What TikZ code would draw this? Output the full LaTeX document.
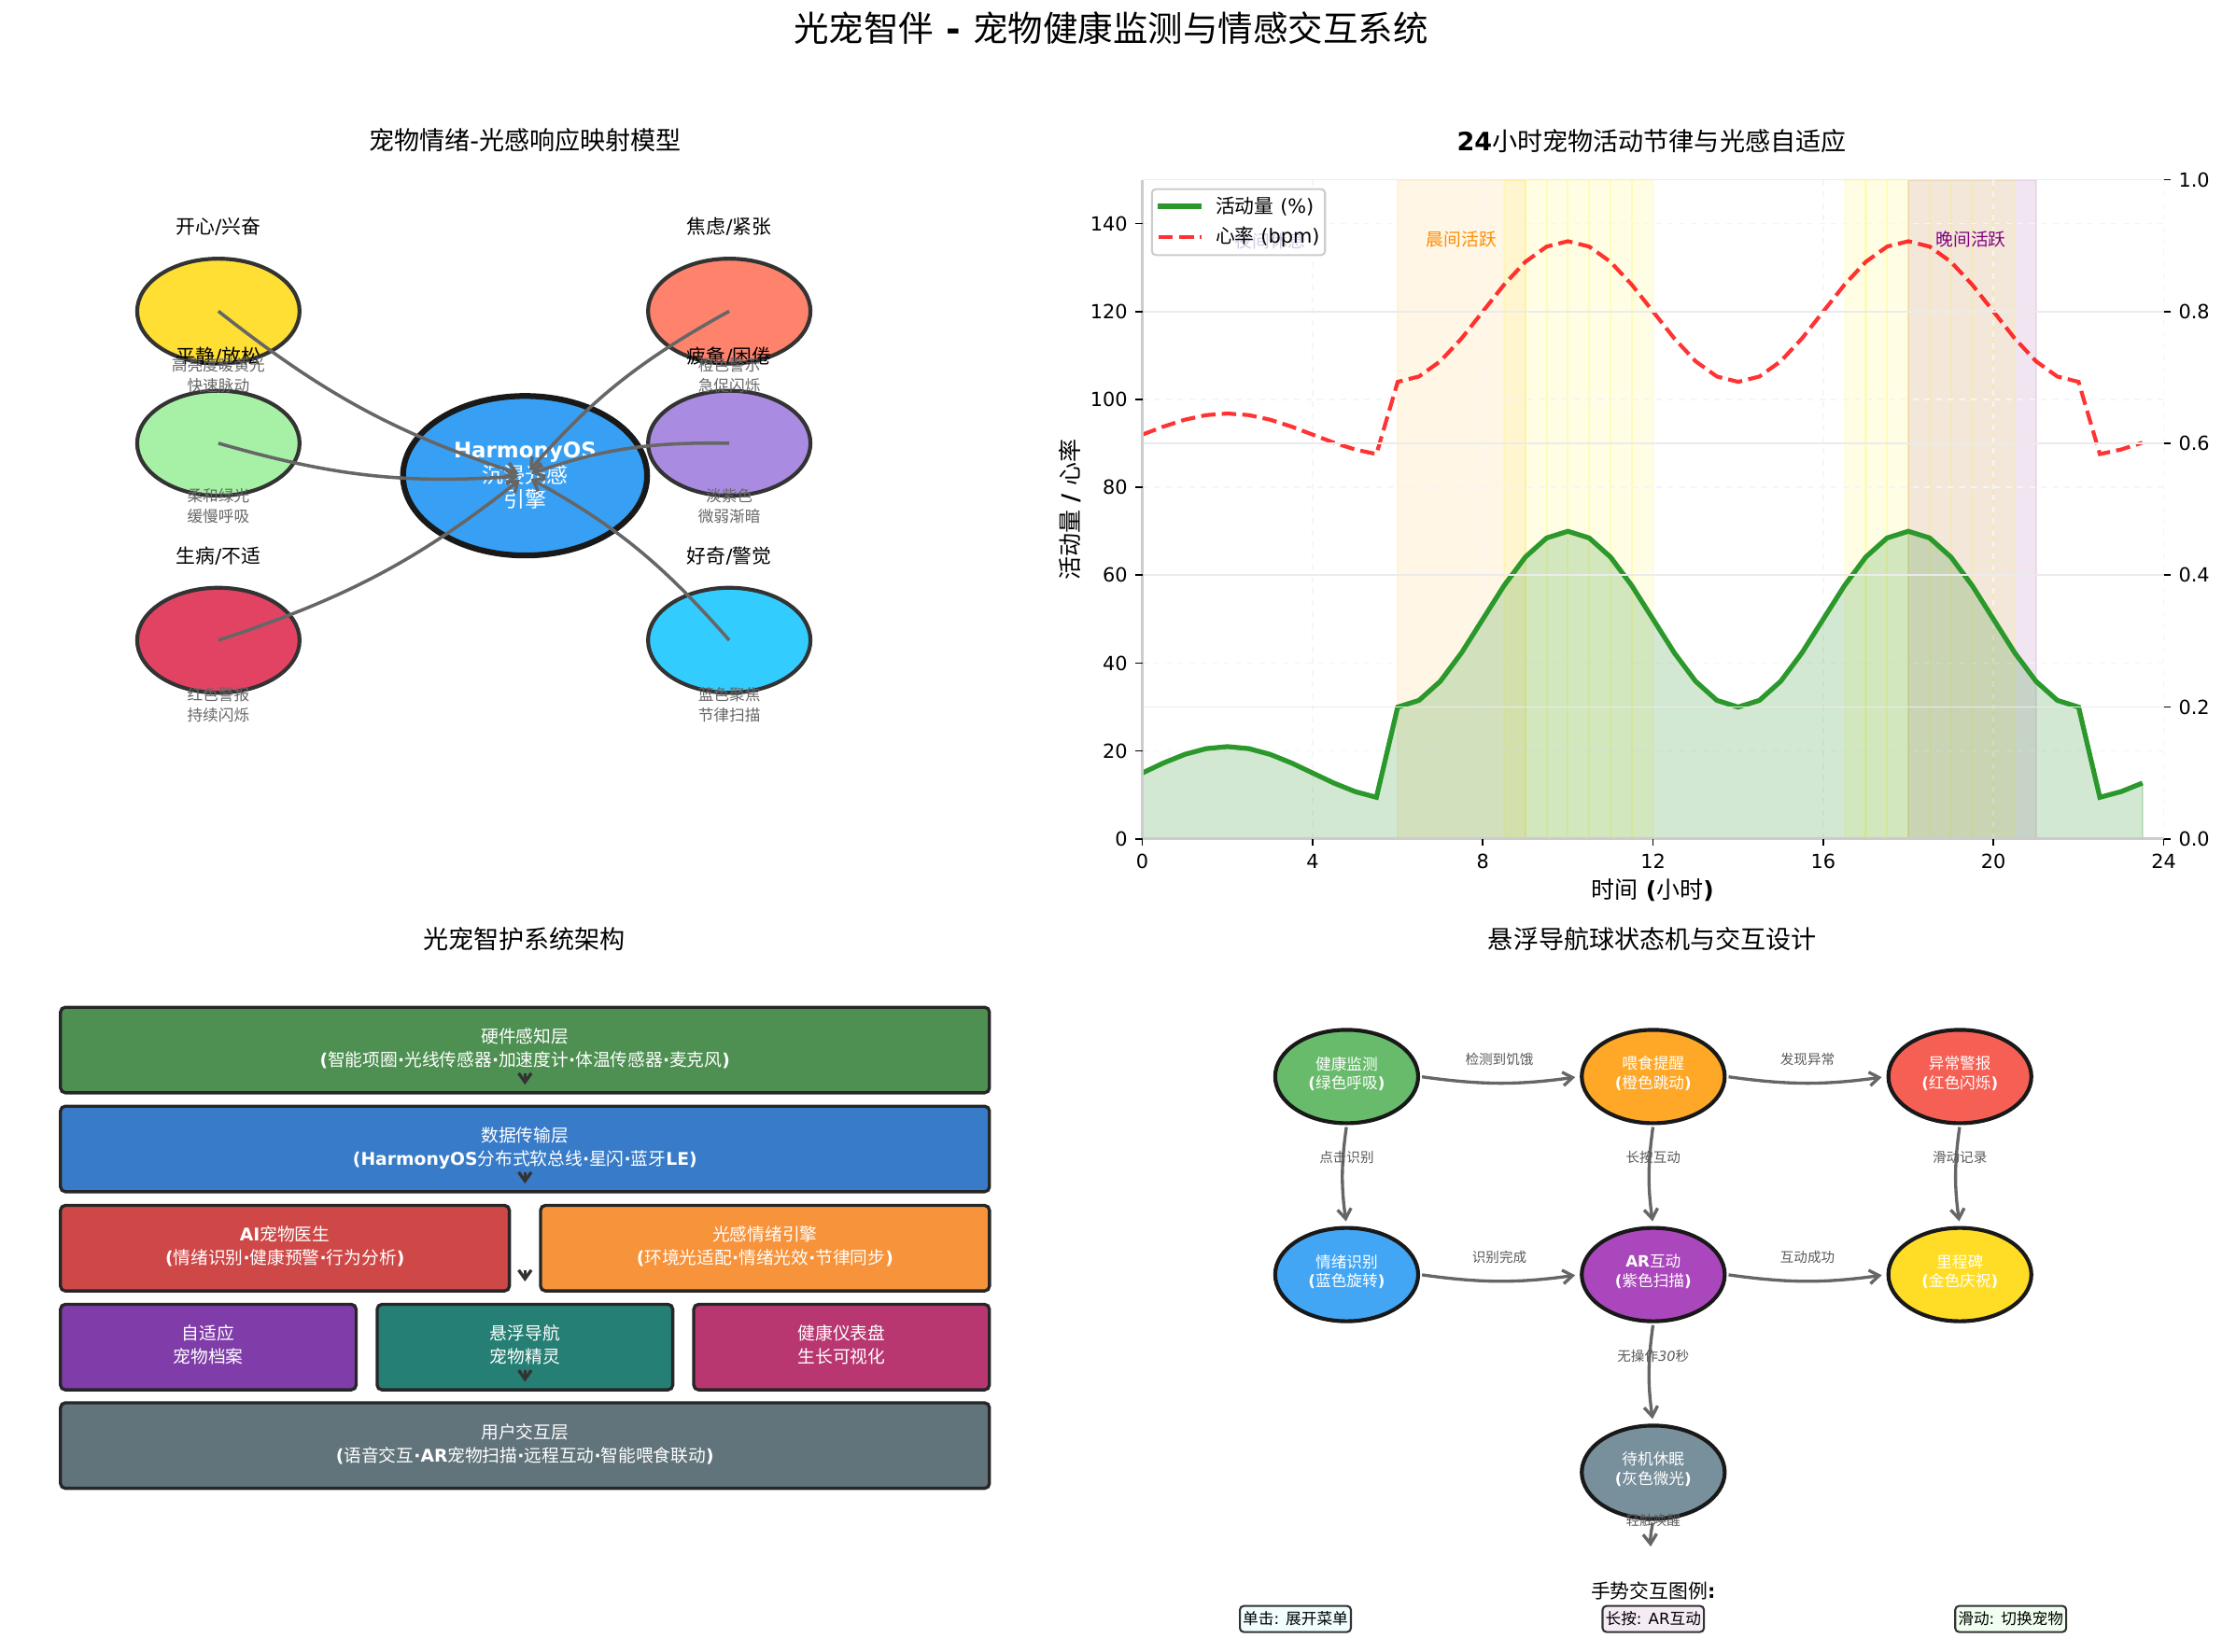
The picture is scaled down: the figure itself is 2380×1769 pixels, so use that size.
\documentclass[tikz,border=0pt]{standalone}
\usepackage{fontspec}
\setmainfont{DejaVu Sans}
\newfontfamily\cjkfont{Noto Sans CJK SC}
\newcommand{\zh}[1]{{\cjkfont\mdseries\upshape #1}}
\usetikzlibrary{arrows.meta,shapes.geometric}

\definecolor{moodyellow}{HTML}{FFDF33}
\definecolor{moodtomato}{HTML}{FF826C}
\definecolor{moodgreen}{HTML}{A6F1A6}
\definecolor{moodpurple}{HTML}{A98CE2}
\definecolor{moodcrimson}{HTML}{E34363}
\definecolor{moodsky}{HTML}{33CCFF}
\definecolor{engineblue}{HTML}{38A0F4}
\definecolor{layergreen}{HTML}{4D9051}
\definecolor{layerblue}{HTML}{387CC9}
\definecolor{layerred}{HTML}{CF4848}
\definecolor{layerorange}{HTML}{F7933A}
\definecolor{layerpurple}{HTML}{803DA9}
\definecolor{layerteal}{HTML}{267F74}
\definecolor{layerpink}{HTML}{B93770}
\definecolor{layergrey}{HTML}{61737B}
\definecolor{stategreen}{HTML}{68BB6B}
\definecolor{stateorange}{HTML}{FFA726}
\definecolor{statered}{HTML}{F65F54}
\definecolor{stateblue}{HTML}{42A6F5}
\definecolor{statepurple}{HTML}{AB47BC}
\definecolor{stategold}{HTML}{FFDD26}
\definecolor{stategrey}{HTML}{788F9C}
\definecolor{activegreen}{HTML}{228B22}
\definecolor{activeline}{HTML}{2B982B}
\definecolor{bandorange}{HTML}{FFA500}
\definecolor{labelorange}{HTML}{FF8C00}
\definecolor{labelnavy}{HTML}{000080}

\begin{document}
\begin{tikzpicture}[
    x=0.48pt, y=-0.48pt,
    declare function={
      act(\h)=(\h<6||\h>=22.5)?15+6*sin(45*\h):50-20*cos(45*(\h-6));
      rate(\h)=80+0.8*act(\h);},
    halfhours/.style={samples at={0,0.5,...,23.5}},
    figtitle/.style={font=\fontsize{18}{21}\selectfont\bfseries},
    paneltitle/.style={font=\fontsize{13}{15}\selectfont},
    mood/.style={
      ellipse,
      minimum width=83.5pt,
      minimum height=54pt,
      inner sep=0pt,
      line width=2pt,
      draw=black!80},
    moodname/.style={font=\fontsize{10}{12}\selectfont},
    moodlight/.style={font=\fontsize{8}{10.5}\selectfont, text=black!60, align=center},
    moodarrow/.style={
      line width=1.7pt, draw=black!60, shorten >=3.4pt,
      -{Straight Barb[length=5pt,width=7.5pt]}},
    axisline/.style={line width=1.5pt, draw=black!20},
    tickmark/.style={line width=.8pt, draw=black},
    ticktext/.style={font=\fontsize{10}{12}\selectfont, inner sep=0pt},
    bandtext/.style={font=\fontsize{9}{11}\selectfont, inner sep=0pt},
    gridleft/.style={line width=.8pt, draw=black!4, dashed},
    gridright/.style={line width=.8pt, draw=black!8},
    layer/.style={
      rectangle,
      rounded corners=2.5pt,
      minimum height=44pt,
      inner sep=0pt,
      text depth=3pt,
      line width=1.6pt,
      draw=black!85,
      text=white,
      align=center,
      font=\fontsize{9}{12}\selectfont\bfseries},
    layerarrow/.style={
      line width=1.6pt, draw=black!80,
      -{Straight Barb[length=4.5pt,width=6.5pt]}},
    state/.style={
      ellipse,
      minimum width=73.5pt,
      minimum height=48pt,
      inner sep=0pt,
      text depth=4pt,
      line width=2pt,
      draw=black!90,
      text=white,
      align=center,
      font=\fontsize{8}{9.9}\selectfont\bfseries},
    statearrow/.style={
      line width=1.6pt, draw=black!60, shorten <=1pt, shorten >=2.4pt,
      -{Straight Barb[length=5pt,width=7pt]}},
    statelabel/.style={font=\fontsize{7}{8}\selectfont\itshape, text=black!65, inner sep=0pt},
    gesture/.style={
      rectangle,
      rounded corners=2pt,
      inner xsep=1.5pt,
      inner ysep=3pt,
      line width=1pt,
      draw=black!80,
      font=\fontsize{8}{10}\selectfont}
    ]

  \useasboundingbox (0,0) rectangle (2380,1769);

  \node (figtitle) at (1190,30) [figtitle] {\zh{光宠智伴} - \zh{宠物健康监测与情感交互系统}};

  % mood panel
  \node (moodtitle) at (562.4,150.4) [paneltitle] {\zh{宠物情绪}-\zh{光感响应映射模型}};

  \node (happy) at (233.9,333.4) [mood, fill=moodyellow] {};
  \node (anxious) at (781.1,333.4) [mood, fill=moodtomato] {};
  \node (calm) at (233.9,474.9) [mood, fill=moodgreen] {};
  \node (tired) at (781.1,474.9) [mood, fill=moodpurple] {};
  \node (sick) at (233.9,686) [mood, fill=moodcrimson] {};
  \node (curious) at (781.1,686) [mood, fill=moodsky] {};
  \node (engine) at (562.4,509.7) [mood, fill=engineblue, minimum width=125.5pt, minimum height=82pt,
    line width=3pt, draw=black!90, text=white, align=center,
    font=\fontsize{11}{12.7}\selectfont\bfseries] {HarmonyOS\\\zh{沉浸光感}\\\zh{引擎}};

  \node (happyname) at (233.9,242.8) [moodname] {\zh{开心}/\zh{兴奋}};
  \node (anxiousname) at (781.1,242.8) [moodname] {\zh{焦虑}/\zh{紧张}};
  \node (calmname) at (233.9,382) [moodname] {\zh{平静}/\zh{放松}};
  \node (tiredname) at (781.1,382) [moodname] {\zh{疲惫}/\zh{困倦}};
  \node (sickname) at (233.9,595.4) [moodname] {\zh{生病}/\zh{不适}};
  \node (curiousname) at (781.1,595.4) [moodname] {\zh{好奇}/\zh{警觉}};

  \node (happylight) at (233.9,402) [moodlight] {\zh{高亮度暖黄光}\\\zh{快速脉动}};
  \node (anxiouslight) at (781.1,402) [moodlight] {\zh{橙色警示}\\\zh{急促闪烁}};
  \node (calmlight) at (233.9,542) [moodlight] {\zh{柔和绿光}\\\zh{缓慢呼吸}};
  \node (tiredlight) at (781.1,542) [moodlight] {\zh{淡紫色}\\\zh{微弱渐暗}};
  \node (sicklight) at (233.9,755) [moodlight] {\zh{红色警报}\\\zh{持续闪烁}};
  \node (curiouslight) at (781.1,755) [moodlight] {\zh{蓝色聚焦}\\\zh{节律扫描}};

  \foreach \mood in {happy,anxious,calm,tired,sick,curious}
    \draw[moodarrow] (\mood.center) to[bend right=10] (engine.center);

  % rhythm panel
  \node (rhythmtitle) at (1769,151) [paneltitle] {\textbf{24}\zh{小时宠物活动节律与光感自适应}};

  \begin{scope}[shift={(1223.6,898.8)}, x=21.878pt, y=2.26pt]
    \fill[bandorange, opacity=.1] (6,0) rectangle (9,150);
    \draw[bandorange, opacity=.1, line width=1pt] (6,0) rectangle (9,150);
    \fill[violet, opacity=.1] (18,0) rectangle (21,150);
    \draw[violet, opacity=.1, line width=1pt] (18,0) rectangle (21,150);
    \foreach \h in {8.5,9,...,11.5,16.5,17,...,20} {
      \fill[yellow, opacity=.1] (\h,0) rectangle (\h+.5,150);
      \draw[yellow, opacity=.1, line width=1pt] (\h,0) rectangle (\h+.5,150);
    }

    \foreach \v in {20,40,80,100,140}
      \draw[gridleft] (0,\v) -- (24,\v);
    \foreach \h in {4,8,12,16,20,24}
      \draw[gridleft] (\h,0) -- (\h,150);

    \fill[activegreen, opacity=.2] (0,0) -- plot[halfhours] (\x,{act(\x)}) -- (23.5,0) -- cycle;
    \draw[activegreen, opacity=.2, line width=1pt] (23.5,0) -- (23.5,{act(23.5)});
    \draw[activeline, line width=2.5pt] plot[halfhours] (\x,{act(\x)});
    \draw[red, opacity=.8, line width=2pt, dash pattern=on 7.4pt off 3.2pt] plot[halfhours] (\x,{rate(\x)});

    \foreach \v in {30,60,90,120,150}
      \draw[gridright] (0,\v) -- (24,\v);

    \node (nightlabel) at (3,136) [bandtext, text=labelnavy] {\zh{夜间休息}};
    \node (morninglabel) at (7.5,136.5) [bandtext, text=labelorange] {\zh{晨间活跃}};
    \node (eveninglabel) at (19.47,136.5) [bandtext, text=violet] {\zh{晚间活跃}};

    \draw[axisline] (0,150) -- (0,0) -- (24,0);

    \foreach \v in {0,20,...,140} {
      \draw[tickmark] (0,\v) -- ++(-3.5pt,0);
      \node (lefttick\v) at (0,\v) [ticktext, anchor=east, xshift=-7.5pt] {\v};
    }
    \foreach \h in {0,4,...,24} {
      \draw[tickmark] (\h,0) -- ++(0,-3.5pt);
      \node (bottomtick\h) at (\h,0) [ticktext, anchor=north, yshift=-7.5pt] {\h};
    }
    \foreach \v/\t in {0/0.0,30/0.2,60/0.4,90/0.6,120/0.8,150/1.0} {
      \draw[tickmark] (24,\v) -- ++(3.5pt,0);
      \node (righttick\v) at (24,\v) [ticktext, anchor=west, xshift=7.5pt] {\t};
    }
  \end{scope}

  \node (rhythmy) at (1145.7,546) [rotate=90, font=\fontsize{12}{14}\selectfont\bfseries] {\zh{活动量} / \zh{心率}};
  \node (rhythmx) at (1770,953.7) [font=\fontsize{12}{14}\selectfont\bfseries] {\zh{时间} (\zh{小时})};

  % chart legend
  \node (legendbox) at (1326.5,238) [rectangle, rounded corners=2pt, minimum width=89pt, minimum height=33.9pt,
    inner sep=0pt, line width=1pt, draw=black!20, fill=white, fill opacity=.8] {};
  \coordinate (activea) at (1240,221);
  \coordinate (activeb) at (1287,221);
  \coordinate (ratea) at (1241,254);
  \coordinate (rateb) at (1287,254);
  \draw[activeline, line width=2.5pt] (activea) -- (activeb);
  \draw[red, opacity=.8, line width=2pt, dash pattern=on 7.4pt off 3.2pt] (ratea) -- (rateb);
  \node (activetext) at (1301.7,221) [anchor=west, inner sep=0pt, font=\fontsize{10}{12}\selectfont] {\zh{活动量} (\%)};
  \node (ratetext) at (1301.7,254) [anchor=west, inner sep=0pt, font=\fontsize{10}{12}\selectfont] {\zh{心率} (bpm)};

  % architecture panel
  \node (archtitle) at (561.6,1006) [paneltitle] {\zh{光宠智护系统架构}};

  \node (hardware) at (562.3,1125) [layer, fill=layergreen, minimum width=477.6pt]
    {\zh{硬件感知层}\\(\zh{智能项圈}·\zh{光线传感器}·\zh{加速度计}·\zh{体温传感器}·\zh{麦克风})};
  \node (transfer) at (562.3,1231) [layer, fill=layerblue, minimum width=477.6pt]
    {\zh{数据传输层}\\(HarmonyOS\zh{分布式软总线}·\zh{星闪}·\zh{蓝牙}LE)};
  \node (doctor) at (305.2,1337.3) [layer, fill=layerred, minimum width=230.8pt]
    {AI\zh{宠物医生}\\(\zh{情绪识别}·\zh{健康预警}·\zh{行为分析})};
  \node (lightcore) at (819.4,1337.3) [layer, fill=layerorange, minimum width=230.8pt]
    {\zh{光感情绪引擎}\\(\zh{环境光适配}·\zh{情绪光效}·\zh{节律同步})};
  \node (profile) at (223.1,1443.3) [layer, fill=layerpurple, minimum width=152pt]
    {\zh{自适应}\\\zh{宠物档案}};
  \node (sprite) at (562.3,1443.3) [layer, fill=layerteal, minimum width=152pt]
    {\zh{悬浮导航}\\\zh{宠物精灵}};
  \node (dashboard) at (901.4,1443.3) [layer, fill=layerpink, minimum width=152pt]
    {\zh{健康仪表盘}\\\zh{生长可视化}};
  \node (userlayer) at (562.3,1548.8) [layer, fill=layergrey, minimum width=477.6pt]
    {\zh{用户交互层}\\(\zh{语音交互}·AR\zh{宠物扫描}·\zh{远程互动}·\zh{智能喂食联动})};

  \coordinate (gapmid) at (562.3,1383.4);
  \draw[layerarrow] ([yshift=11pt]hardware.south) -- ([yshift=5pt]hardware.south);
  \draw[layerarrow] ([yshift=11pt]transfer.south) -- ([yshift=5pt]transfer.south);
  \draw[layerarrow] ([yshift=11pt]gapmid) -- ([yshift=5pt]gapmid);
  \draw[layerarrow] ([yshift=11pt]sprite.south) -- ([yshift=5pt]sprite.south);

  % state machine panel
  \node (statetitle) at (1770,1006) [paneltitle] {\zh{悬浮导航球状态机与交互设计}};

  \node (monitor) at (1442.4,1153.4) [state, fill=stategreen] {\zh{健康监测}\\(\zh{绿色呼吸})};
  \node (feeding) at (1770.8,1153.4) [state, fill=stateorange] {\zh{喂食提醒}\\(\zh{橙色跳动})};
  \node (alarm) at (2099.2,1153.4) [state, fill=statered] {\zh{异常警报}\\(\zh{红色闪烁})};
  \node (emotion) at (1442.4,1365.6) [state, fill=stateblue] {\zh{情绪识别}\\(\zh{蓝色旋转})};
  \node (arplay) at (1770.8,1365.6) [state, fill=statepurple] {AR\zh{互动}\\(\zh{紫色扫描})};
  \node (milestone) at (2099.2,1365.6) [state, fill=stategold] {\zh{里程碑}\\(\zh{金色庆祝})};
  \node (standby) at (1770.8,1577.4) [state, fill=stategrey] {\zh{待机休眠}\\(\zh{灰色微光})};
  \coordinate (wakeend) at (1768.4,1662);

  \draw[statearrow] (monitor.east) to[bend right=8] (feeding.west);
  \draw[statearrow] (feeding.east) to[bend right=8] (alarm.west);
  \draw[statearrow] (emotion.east) to[bend right=8] (arplay.west);
  \draw[statearrow] (arplay.east) to[bend right=8] (milestone.west);
  \draw[statearrow] (monitor.south) to[bend right=8] (emotion.north);
  \draw[statearrow] (feeding.south) to[bend right=8] (arplay.north);
  \draw[statearrow] (alarm.south) to[bend right=8] (milestone.north);
  \draw[statearrow] (arplay.south) to[bend right=8] (standby.north);
  \draw[statearrow] (standby.south) to[bend right=8] (wakeend);

  \node (hungry) at (1606,1135) [statelabel] {\zh{检测到饥饿}};
  \node (abnormal) at (1936,1135) [statelabel] {\zh{发现异常}};
  \node (tapscan) at (1442.4,1240.4) [statelabel] {\zh{点击识别}};
  \node (holdplay) at (1770.8,1240.4) [statelabel] {\zh{长按互动}};
  \node (swipelog) at (2099.2,1240.4) [statelabel] {\zh{滑动记录}};
  \node (scandone) at (1606,1346.7) [statelabel] {\zh{识别完成}};
  \node (playdone) at (1936,1346.7) [statelabel] {\zh{互动成功}};
  \node (idle) at (1770.8,1452.6) [statelabel] {\zh{无操作}30\zh{秒}};
  \node (wake) at (1770.8,1629.3) [statelabel] {\zh{轻触唤醒}};

  \node (gesturetitle) at (1770.8,1704) [font=\fontsize{10}{12}\selectfont\bfseries] {\zh{手势交互图例}:};
  \node (gesturetap) at (1387.5,1734.6) [gesture, fill=blue!8!cyan!6] {\zh{单击}: \zh{展开菜单}};
  \node (gesturehold) at (1770.8,1734.6) [gesture, fill=violet!8] {\zh{长按}: AR\zh{互动}};
  \node (gestureswipe) at (2153.7,1734.6) [gesture, fill=green!6] {\zh{滑动}: \zh{切换宠物}};

\end{tikzpicture}
\end{document}
